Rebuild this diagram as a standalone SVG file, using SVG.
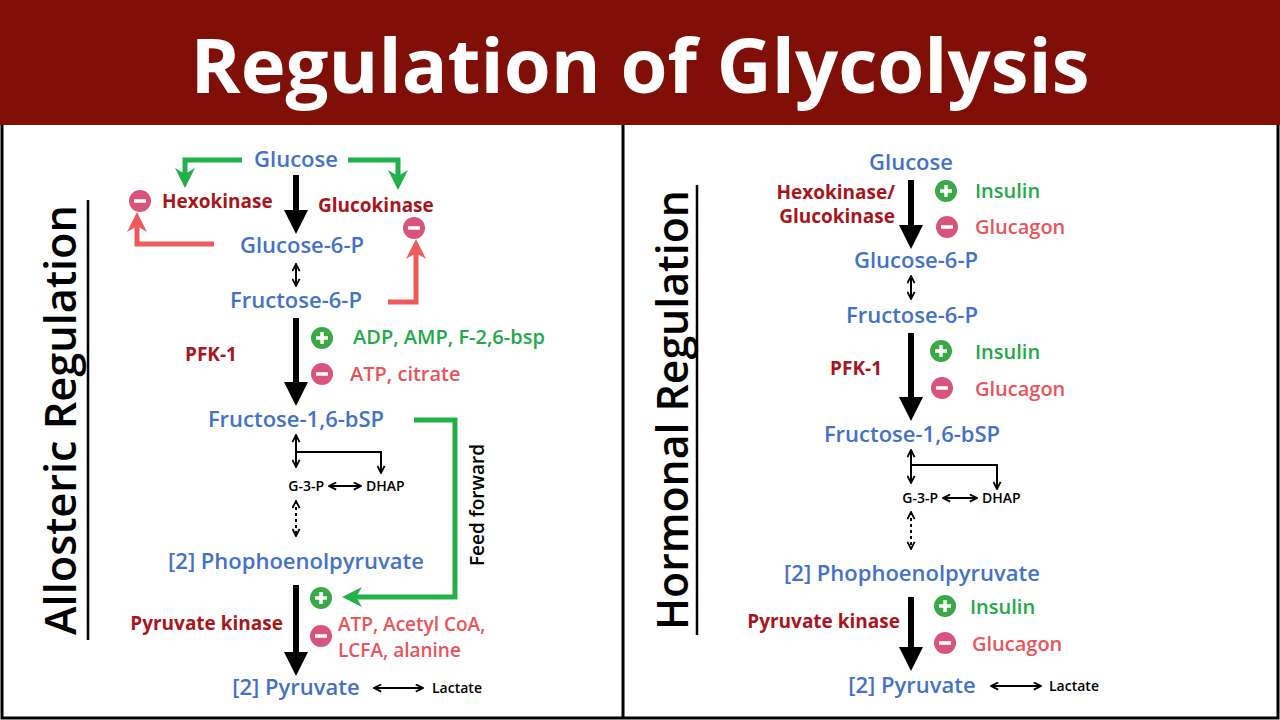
<svg xmlns="http://www.w3.org/2000/svg" width="1280" height="720" viewBox="0 0 1280 720">
<defs>
<style>
text{font-family:"Open Sans","Noto Sans",sans-serif;font-weight:600}
.b{fill:#4472c4;font-size:22px}
.r{fill:#a8151b;font-size:19px;font-weight:700}
.g{fill:#22a845;font-size:20px}
.p{fill:#e8545a;font-size:20px}
.k{fill:#000;font-size:14px}
.side{font-size:44px;fill:#000;font-weight:600}
.blk{stroke:#000;stroke-width:6;fill:none}
.thin{stroke:#000;stroke-width:2;fill:none}
.grn{stroke:#22b04b;stroke-width:5;fill:none}
.red{stroke:#f05a5a;stroke-width:5;fill:none}
</style>
<marker id="ab" viewBox="0 0 10 10" refX="5" refY="5" markerWidth="4" markerHeight="4" orient="auto"><path d="M0,0L10,5L0,10z" fill="#000"/></marker>
<marker id="at" viewBox="0 0 10 10" refX="9" refY="5" markerUnits="userSpaceOnUse" markerWidth="9" markerHeight="9" orient="auto-start-reverse"><path d="M1,1L9,5L1,9" fill="none" stroke="#000" stroke-width="2"/></marker>
<marker id="ag" viewBox="0 0 10 10" refX="5" refY="5" markerWidth="4" markerHeight="4" orient="auto"><path d="M0,0L10,5L0,10L3,5z" fill="#22b04b"/></marker>
<marker id="ar" viewBox="0 0 10 10" refX="5" refY="5" markerWidth="4" markerHeight="4" orient="auto"><path d="M0,0L10,5L0,10L3,5z" fill="#f05a5a"/></marker>
<g id="plus"><circle r="11" fill="#3aa845"/><path d="M-6,0H6M0,-6V6" stroke="#fff" stroke-width="3.5"/></g>
<g id="minus"><circle r="11" fill="#d9547a"/><path d="M-6,0H6" stroke="#fff" stroke-width="3.5"/></g>
</defs>
<rect width="1280" height="720" fill="#fff"/>
<rect width="1280" height="125" fill="#7f0f07"/>
<text x="640" y="93" text-anchor="middle" style="font-size:76px;font-weight:700;fill:#fff">Regulation of Glycolysis</text>
<g id="frame" stroke="#000" stroke-width="3" fill="none">
<path d="M2,125V718H1278V125"/><path d="M623,125V718"/>
</g>
<g id="connectors">
<path class="blk" d="M296,175V222" marker-end="url(#ab)"/>
<path class="grn" d="M242,160H185V178" marker-end="url(#ag)"/>
<path class="grn" d="M348,160H398V180" marker-end="url(#ag)"/>
<path class="red" d="M214,244H137V222" marker-end="url(#ar)"/>
<path class="red" d="M388,302H416V249" marker-end="url(#ar)"/>
<path class="thin" d="M296,264V286" marker-start="url(#at)" marker-end="url(#at)"/>
<path class="blk" d="M296,318V394" marker-end="url(#ab)"/>
<path class="grn" d="M414,420H455V597H352" marker-end="url(#ag)"/>
<path class="thin" d="M296,435V467" marker-start="url(#at)" marker-end="url(#at)"/>
<path class="thin" d="M296,452H381V473" marker-end="url(#at)"/>
<path class="thin" d="M329,486H361" marker-start="url(#at)" marker-end="url(#at)"/>
<path class="thin" d="M296,501V536" stroke-dasharray="3,3" marker-start="url(#at)" marker-end="url(#at)"/>
<path class="blk" d="M296,585V664" marker-end="url(#ab)"/>
<path class="thin" d="M374,688H423" marker-start="url(#at)" marker-end="url(#at)"/>
<path class="blk" d="M911,180V237" marker-end="url(#ab)"/>
<path class="thin" d="M911,276V299" marker-start="url(#at)" marker-end="url(#at)"/>
<path class="blk" d="M911,333V409" marker-end="url(#ab)"/>
<path class="thin" d="M911,450V483" marker-start="url(#at)" marker-end="url(#at)"/>
<path class="thin" d="M911,465H997V489" marker-end="url(#at)"/>
<path class="thin" d="M943,498H977" marker-start="url(#at)" marker-end="url(#at)"/>
<path class="thin" d="M911,512V549" stroke-dasharray="3,3" marker-start="url(#at)" marker-end="url(#at)"/>
<path class="blk" d="M911,597V659" marker-end="url(#ab)"/>
<path class="thin" d="M991,686H1041" marker-start="url(#at)" marker-end="url(#at)"/>
</g>
<g id="left">
<text class="b" x="296" y="167" text-anchor="middle">Glucose</text>
<use href="#minus" x="140" y="201"/>
<text class="r" x="162" y="208">Hexokinase</text>
<text class="r" x="318" y="212">Glucokinase</text>
<use href="#minus" x="414" y="228"/>
<text class="b" x="302" y="253" text-anchor="middle">Glucose-6-P</text>
<text class="b" x="296" y="308" text-anchor="middle">Fructose-6-P</text>
<use href="#plus" x="322" y="338"/>
<text class="g" x="353" y="344">ADP, AMP, F-2,6-bsp</text>
<text class="r" x="185" y="361">PFK-1</text>
<use href="#minus" x="322" y="374"/>
<text class="p" x="350" y="381">ATP, citrate</text>
<text class="b" x="296" y="427" text-anchor="middle">Fructose-1,6-bSP</text>
<text class="k" x="324" y="491" text-anchor="end">G-3-P</text>
<text class="k" x="366" y="491">DHAP</text>
<text x="484" y="505" text-anchor="middle" transform="rotate(-90 484 505)" style="font-size:19px;fill:#000">Feed forward</text>
<text class="b" x="296" y="569" text-anchor="middle">[2] Phophoenolpyruvate</text>
<use href="#plus" x="321" y="598"/>
<text class="r" x="283" y="630" text-anchor="end">Pyruvate kinase</text>
<use href="#minus" x="321" y="636"/>
<text class="p" x="338" y="631" style="font-size:19px">ATP, Acetyl CoA,</text>
<text class="p" x="338" y="657" style="font-size:19px">LCFA, alanine</text>
<text class="b" x="296" y="695" text-anchor="middle">[2] Pyruvate</text>
<text class="k" x="432" y="693">Lactate</text>
<text class="side" x="76" y="420" text-anchor="middle" textLength="430" lengthAdjust="spacingAndGlyphs" transform="rotate(-90 76 420)">Allosteric Regulation</text>
<path d="M88,200V640" stroke="#000" stroke-width="2.5"/>
</g>
<g id="right">
<text class="b" x="911" y="170" text-anchor="middle">Glucose</text>
<text class="r" x="895" y="199" text-anchor="end">Hexokinase/</text>
<text class="r" x="895" y="223" text-anchor="end">Glucokinase</text>
<use href="#plus" x="946" y="191"/><text class="g" x="975" y="198">Insulin</text>
<use href="#minus" x="947" y="227"/><text class="p" x="975" y="234">Glucagon</text>
<text class="b" x="916" y="268" text-anchor="middle">Glucose-6-P</text>
<text class="b" x="912" y="323" text-anchor="middle">Fructose-6-P</text>
<text class="r" x="882" y="375" text-anchor="end">PFK-1</text>
<use href="#plus" x="941" y="351"/><text class="g" x="975" y="359">Insulin</text>
<use href="#minus" x="942" y="388"/><text class="p" x="975" y="396">Glucagon</text>
<text class="b" x="912" y="442" text-anchor="middle">Fructose-1,6-bSP</text>
<text class="k" x="938" y="503" text-anchor="end">G-3-P</text>
<text class="k" x="982" y="503">DHAP</text>
<text class="b" x="912" y="581" text-anchor="middle">[2] Phophoenolpyruvate</text>
<text class="r" x="900" y="628" text-anchor="end">Pyruvate kinase</text>
<use href="#plus" x="945" y="606"/><text class="g" x="970" y="614">Insulin</text>
<use href="#minus" x="945" y="643"/><text class="p" x="972" y="651">Glucagon</text>
<text class="b" x="912" y="693" text-anchor="middle">[2] Pyruvate</text>
<text class="k" x="1049" y="691">Lactate</text>
<text class="side" x="688" y="410" text-anchor="middle" textLength="440" lengthAdjust="spacingAndGlyphs" transform="rotate(-90 688 410)">Hormonal Regulation</text>
<path d="M697,185V635" stroke="#000" stroke-width="2.5"/>
</g>
</svg>
